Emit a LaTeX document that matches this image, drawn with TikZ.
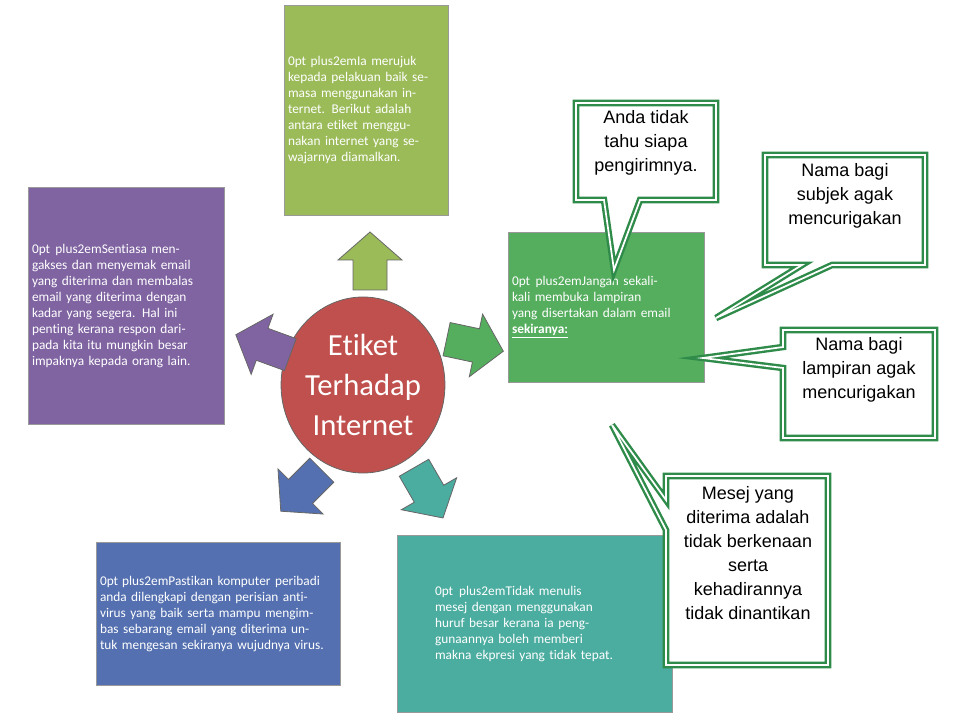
\documentclass[tikz,border=0pt]{standalone}
\usepackage{fontspec}
\usetikzlibrary{shapes.geometric}
\setmainfont[Ligatures=NoCommon]{Carlito}
\newfontfamily\calfont{Liberation Sans}
\definecolor{olv}{HTML}{9BBB59}
\definecolor{prp}{HTML}{8064A2}
\definecolor{grn}{HTML}{55AD5E}
\definecolor{blu}{HTML}{5470B0}
\definecolor{tea}{HTML}{4BACA0}
\definecolor{redc}{HTML}{C0504D}
\definecolor{cgrn}{HTML}{2E8B4A}
\begin{document}
\begin{tikzpicture}[x=0.75pt,y=-0.75pt,
 box/.style={draw=black!40,line width=0.6pt,text=white,align=center,inner sep=3pt,
   font=\hyphenpenalty=10000\fontsize{13.2}{16.5}\selectfont},
 callout/.style={draw=cgrn,double=white,line width=1.8pt,double distance=1.3pt,fill=white,line join=miter},
 ctext/.style={align=center,font=\calfont\fontsize{13.5}{18}\selectfont,text=black},
 blockarrow/.pic={\path[pic actions,draw=black!60,line width=0.6pt]
   (-28,-17)--(2,-17)--(2,-32)--(30,0)--(2,32)--(2,17)--(-28,17)--cycle;}]
\useasboundingbox (0,0) rectangle (960,720);
% boxes
\node[box,fill=olv,minimum width=160*0.75pt,minimum height=210*0.75pt,text width=156*0.75pt] (top) at (366,110)
 {Ia merujuk kepada pelakuan baik semasa menggunakan internet. Berikut adalah antara etiket menggunakan internet yang sewajarnya diamalkan.};
\node[box,fill=prp,minimum width=192*0.75pt,minimum height=237*0.75pt,text width=188*0.75pt] (pur) at (126,306)
 {Sentiasa mengakses dan menyemak email yang diterima dan membalas email yang diterima dengan kadar yang segera. Hal ini penting kerana respon daripada kita itu mungkin besar impaknya kepada orang lain.};
\node[box,fill=grn,minimum width=194*0.75pt,minimum height=150*0.75pt,text width=188*0.75pt] (gr) at (606,307)
 {Jangan sekali-kali membuka lampiran yang disertakan dalam email\\ \underline{\textbf{sekiranya:}}};
\node[box,fill=blu,minimum width=240*0.75pt,minimum height=143*0.75pt,text width=236*0.75pt] (bl) at (218,614)
 {Pastikan komputer peribadi anda dilengkapi dengan perisian anti-virus yang baik serta mampu mengimbas sebarang email yang diterima untuk mengesan sekiranya wujudnya virus.};
\node[box,fill=tea,minimum width=275*0.75pt,minimum height=177*0.75pt,text width=200*0.75pt] (te) at (535,624)
 {Tidak menulis mesej dengan menggunakan huruf besar kerana ia penggunaannya boleh memberi makna ekpresi yang tidak tepat.};
% centre
\node[ellipse,draw=black!60,line width=0.6pt,fill=redc,minimum width=130*0.75pt,minimum height=176*0.75pt,
 text=white,align=center,inner sep=0pt,font=\fontsize{23}{30}\selectfont] (c) at (363,385) {Etiket\\Terhadap\\Internet};
% arrows
\pic[fill=olv,rotate=90] (a1) at (370,262) {blockarrow};
\pic[fill=grn,rotate=-12] (a2) at (474,345) {blockarrow};
\pic[fill=prp,rotate=-200] (a3) at (264,345) {blockarrow};
\pic[fill=blu,rotate=-135] (a4) at (302,490) {blockarrow};
\pic[fill=tea,rotate=-60] (a5) at (428,492) {blockarrow};
% callouts
\draw[callout] (576,103)--(716,103)--(716,200)--(640,200)--(614,270)--(604,200)--(576,200)--cycle;
\node[ctext] (c1) at (646,143) {Anda tidak\\tahu siapa\\pengirimnya.};
\draw[callout] (765,155)--(925,155)--(925,265)--(832,265)--(716,318)--(802,265)--(765,265)--cycle;
\node[ctext] (c2) at (845,196) {Nama bagi\\subjek agak\\mencurigakan};
\draw[callout] (783,330)--(935,330)--(935,438)--(783,438)--(783,368)--(703,358)--(783,347)--cycle;
\node[ctext] (c3) at (859,370) {Nama bagi\\lampiran agak\\mencurigakan};
\draw[callout] (666,476)--(828,476)--(828,665)--(666,665)--(666,530)--(612,425)--(666,500)--cycle;
\node[ctext] (c4) at (748,553) {Mesej yang\\diterima adalah\\tidak berkenaan\\serta\\kehadirannya\\tidak dinantikan};
\end{tikzpicture}
\end{document}
